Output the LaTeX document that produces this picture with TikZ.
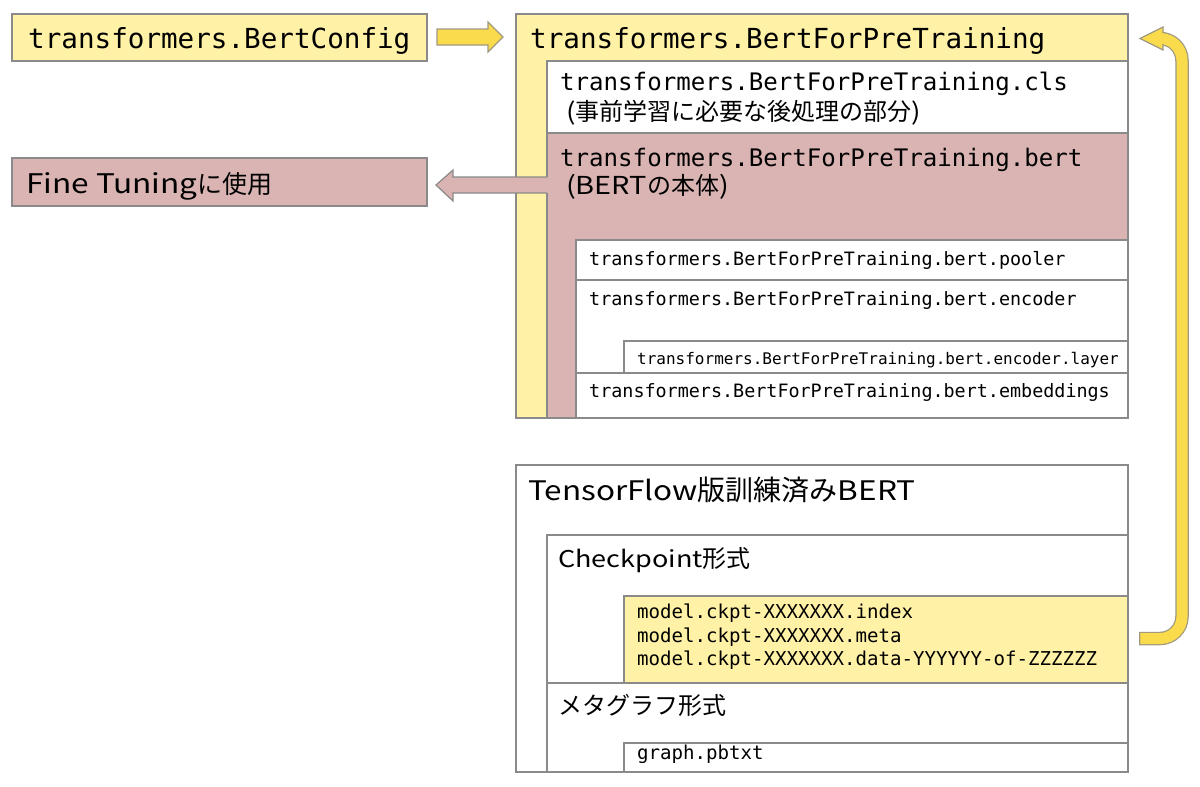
\documentclass[tikz,border=0pt]{standalone}
\usepackage{fontspec}
\setmainfont{Noto Sans CJK JP}
\newfontfamily\latf[FakeStretch=1.17]{Noto Sans CJK JP}
\setmonofont{DejaVu Sans Mono}
\newcommand\latpart[2]{{\latf\fontsize{#1}{#1}\selectfont #2}}
\newcommand\jppart[2]{{\fontsize{#1}{#1}\selectfont #2}}
\definecolor{yelL}{HTML}{FFF1A6}
\definecolor{yelA}{HTML}{F9DB4C}
\definecolor{pinkB}{HTML}{D9B4B2}
\definecolor{bord}{HTML}{8A8A8A}
\definecolor{abord}{HTML}{A09A80}
\tikzset{
  box/.style={draw=bord, line width=1.8pt},
  mt/.style={anchor=base west, inner sep=0pt, font=\ttfamily\fontsize{#1}{#1}\selectfont},
  st/.style={anchor=base west, inner sep=0pt},
}
\begin{document}
\begin{tikzpicture}[x=1pt,y=-1pt]
\useasboundingbox[fill=white] (0,0) rectangle (1200,787);
% left boxes
\draw[box, fill=yelL] (12,14) rectangle (427,61);
\node[mt=27.6] (cfg) at (28,48) {transformers.BertConfig};
\draw[box, fill=pinkB] (12,158) rectangle (427,206);
\node[st] (ft) at (26,193) {\latpart{27}{Fine Tuning}\jppart{25}{に使用}};
% BertForPreTraining
\draw[box, fill=yelL] (516,14) rectangle (1128,418);
\node[mt=27.6] (bfp) at (530,48) {transformers.BertForPreTraining};
\draw[box, fill=white] (547,61) rectangle (1128,133);
\node[mt=24.1] (cls) at (560,90) {transformers.BertForPreTraining.cls};
\node[st] (clsj) at (566,120) {\latpart{24}{(}\jppart{24}{事前学習に必要な後処理の部分}\latpart{24}{)}};
\draw[box, fill=pinkB] (547,133) rectangle (1128,418);
\node[mt=24.1] (bert) at (560,166) {transformers.BertForPreTraining.bert};
\node[st] (bertj) at (566,194) {\latpart{24.7}{(BERT}\jppart{24}{の本体}\latpart{24.7}{)}};
\draw[box, fill=white] (576,240) rectangle (1128,280);
\node[mt=18.4] (pool) at (589,265) {transformers.BertForPreTraining.bert.pooler};
\draw[box, fill=white] (576,280) rectangle (1128,373);
\node[mt=18.4] (enc) at (589,305) {transformers.BertForPreTraining.bert.encoder};
\draw[box, fill=white] (624,341) rectangle (1128,373);
\node[mt=16] (lay) at (637,364) {transformers.BertForPreTraining.bert.encoder.layer};
\draw[box, fill=white] (576,373) rectangle (1128,418);
\node[mt=18.4] (emb) at (589,397) {transformers.BertForPreTraining.bert.embeddings};
% TensorFlow
\draw[box, fill=white] (516,465) rectangle (1128,772);
\node[st] (tf) at (528,500) {\latpart{26.9}{TensorFlow}\jppart{28}{版訓練済み}\latpart{26.9}{BERT}};
\draw[box, fill=white] (547,535) rectangle (1128,683);
\node[st] (ckp) at (558,567) {\latpart{23.1}{Checkpoint}\jppart{24}{形式}};
\draw[box, fill=yelL] (624,596) rectangle (1128,683);
\node[mt=19.1] (m1) at (637,618) {model.ckpt-XXXXXXX.index};
\node[mt=19.1] (m2) at (637,642) {model.ckpt-XXXXXXX.meta};
\node[mt=19.1] (m3) at (637,665) {model.ckpt-XXXXXXX.data-YYYYYY-of-ZZZZZZ};
\draw[box, fill=white] (547,683) rectangle (1128,772);
\node[st] (meta) at (558,714) {\jppart{24}{メタグラフ形式}};
\draw[box, fill=white] (624,743) rectangle (1128,772);
\node[mt=19.1] (gr) at (637,759) {graph.pbtxt};
% arrows
\draw[draw=abord, fill=yelA, line width=1.2pt, line join=miter]
  (437,29) -- (488,29) -- (488,22) -- (503,37) -- (488,52) -- (488,45) -- (437,45) -- cycle;
\fill[pinkB] (549,177) -- (453,177) -- (453,170) -- (436,185) -- (453,201) -- (453,193) -- (549,193) -- cycle;
\draw[draw=bord, line width=1.2pt, line join=miter]
  (547,177) -- (453,177) -- (453,170) -- (436,185) -- (453,201) -- (453,193) -- (547,193);
% curved arrow
\draw[abord, line width=13.5pt, rounded corners=22pt] (1139,638.5) -- (1182,638.5) -- (1182,38.5) -- (1158,38.5);
\draw[yelA, line width=11pt, rounded corners=22pt] (1140.3,638.5) -- (1182,638.5) -- (1182,38.5) -- (1158,38.5);
\fill[yelA] (1163,33) -- (1163,27) -- (1140,38.5) -- (1163,50) -- (1163,44) -- cycle;
\draw[abord, line width=1.2pt, line join=miter] (1163,32.8) -- (1163,27) -- (1140,38.5) -- (1163,50) -- (1163,44.2);
\end{tikzpicture}
\end{document}
